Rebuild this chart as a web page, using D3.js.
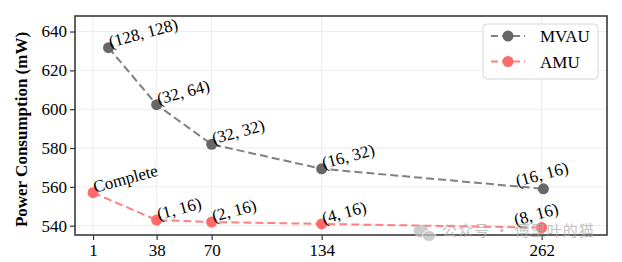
<!DOCTYPE html>
<html><head><meta charset="utf-8">
<script src="https://cdn.jsdelivr.net/npm/d3@7"></script>
<style>
html,body{margin:0;padding:0;background:#fff;}
svg{display:block;}
</style></head>
<body>
<svg id="c" width="622" height="262"></svg>
<script>
// ---- data ----
const xTicks = [1, 38, 70, 134, 262];
const yTicks = [540, 560, 580, 600, 620, 640];
const mvauX = [10, 38, 70, 134, 263];
const mvauY = [631.7, 602.3, 581.9, 569.3, 559.0];
const mvauLabels = ["(128, 128)", "(32, 64)", "(32, 32)", "(16, 32)", "(16, 16)"];
const amuX = [1, 38, 70, 134, 262];
const amuY = [557.0, 542.9, 541.9, 540.9, 539.0];
const amuLabels = ["Complete", "(1, 16)", "(2, 16)", "(4, 16)", "(8, 16)"];
const seriesNames = ["MVAU", "AMU"];
const yTitle = "Power Consumption (mW)";

// ---- layout ----
const L = 75, R = 607, T = 16, B = 235;
const svg = d3.select("#c");
const x = d3.scaleLinear().domain([-9.5, 300]).range([L, R]);
const y = d3.scaleLinear().domain([535.2, 648]).range([B, T]);
const serif = "Liberation Serif, Times New Roman, serif";

// grid
svg.append("g").selectAll("line").data(yTicks).join("line")
  .attr("x1", L).attr("x2", R).attr("y1", d => y(d)).attr("y2", d => y(d))
  .attr("stroke", "#ececec").attr("stroke-width", 1);
svg.append("g").selectAll("line").data(xTicks).join("line")
  .attr("y1", T).attr("y2", B).attr("x1", d => x(d)).attr("x2", d => x(d))
  .attr("stroke", "#ececec").attr("stroke-width", 1);

// axes
const xAxis = svg.append("g").attr("transform", `translate(0,${B})`)
  .call(d3.axisBottom(x).tickValues(xTicks).tickSize(5).tickPadding(4).tickFormat(d3.format("d")));
const yAxis = svg.append("g").attr("transform", `translate(${L},0)`)
  .call(d3.axisLeft(y).tickValues(yTicks).tickSize(5).tickPadding(3).tickFormat(d3.format("d")));
[xAxis, yAxis].forEach(g => {
  g.select(".domain").remove();
  g.selectAll(".tick line").attr("stroke", "#333").attr("stroke-width", 1.2);
  g.selectAll(".tick text").attr("fill", "#000").attr("font-family", serif).attr("font-size", 17);
});

// frame
svg.append("rect").attr("x", L).attr("y", T).attr("width", R - L).attr("height", B - T)
  .attr("fill", "none").attr("stroke", "#3a3a3a").attr("stroke-width", 1.6);

// y title
svg.append("text").attr("transform", `translate(27,${(T + B) / 2 + 4}) rotate(-90)`)
  .attr("text-anchor", "middle").attr("font-family", serif).attr("font-size", 17)
  .attr("font-weight", "bold").text(yTitle);

const series = [
  {name: seriesNames[0], xs: mvauX, ys: mvauY, labels: mvauLabels, line: "#808080", dot: "#676767"},
  {name: seriesNames[1], xs: amuX, ys: amuY, labels: amuLabels, line: "#ff8080", dot: "#ff6a6a"}
];
const line = d3.line().x(d => x(d[0])).y(d => y(d[1]));
series.forEach(s => {
  const pts = s.xs.map((v, i) => [v, s.ys[i]]);
  svg.append("path").datum(pts).attr("d", line).attr("fill", "none")
    .attr("stroke", s.line).attr("stroke-width", 2).attr("stroke-dasharray", "8,4");
  svg.append("g").selectAll("circle").data(pts).join("circle")
    .attr("cx", d => x(d[0])).attr("cy", d => y(d[1])).attr("r", 5.5).attr("fill", s.dot);
  svg.append("g").selectAll("text").data(pts).join("text")
    .attr("transform", (d, i) => {
      const last = i === pts.length - 1;
      const dx = last ? -26 : 2, dy = last ? -2 : 0;
      return `translate(${x(d[0]) + dx},${y(d[1]) + dy}) rotate(-15)`;
    })
    .attr("font-family", serif).attr("font-size", 17).attr("fill", "#000")
    .text((d, i) => s.labels[i]);
});

// legend
const lg = svg.append("g");
lg.append("rect").attr("x", 483).attr("y", 24).attr("width", 115).attr("height", 55)
  .attr("rx", 4).attr("fill", "rgba(255,255,255,0.85)").attr("stroke", "#d6d6d6").attr("stroke-width", 1);
series.forEach((s, i) => {
  const yy = 36 + i * 25.5;
  lg.append("line").attr("x1", 491).attr("x2", 525).attr("y1", yy).attr("y2", yy)
    .attr("stroke", s.line).attr("stroke-width", 2).attr("stroke-dasharray", "7,4");
  lg.append("circle").attr("cx", 508).attr("cy", yy).attr("r", 5.5).attr("fill", s.dot);
  lg.append("text").attr("x", 540).attr("y", yy + 6).attr("font-family", serif)
    .attr("font-size", 17).text(s.name);
});

// watermark
const wm = svg.append("g").attr("opacity", 0.75);
wm.append("ellipse").attr("cx", 421).attr("cy", 231).attr("rx", 7.5).attr("ry", 6.5).attr("fill", "#bdbdbd");
wm.append("ellipse").attr("cx", 429).attr("cy", 236).attr("rx", 6.5).attr("ry", 5.5).attr("fill", "#bdbdbd").attr("stroke", "#fff").attr("stroke-width", 1);
wm.append("text").attr("x", 442).attr("y", 236).attr("font-family", "Noto Sans CJK SC, sans-serif")
  .attr("font-size", 15).attr("letter-spacing", 1).attr("fill", "#b0b0b0").text("公众号 · 傅里叶的猫");
</script>
</body></html>
